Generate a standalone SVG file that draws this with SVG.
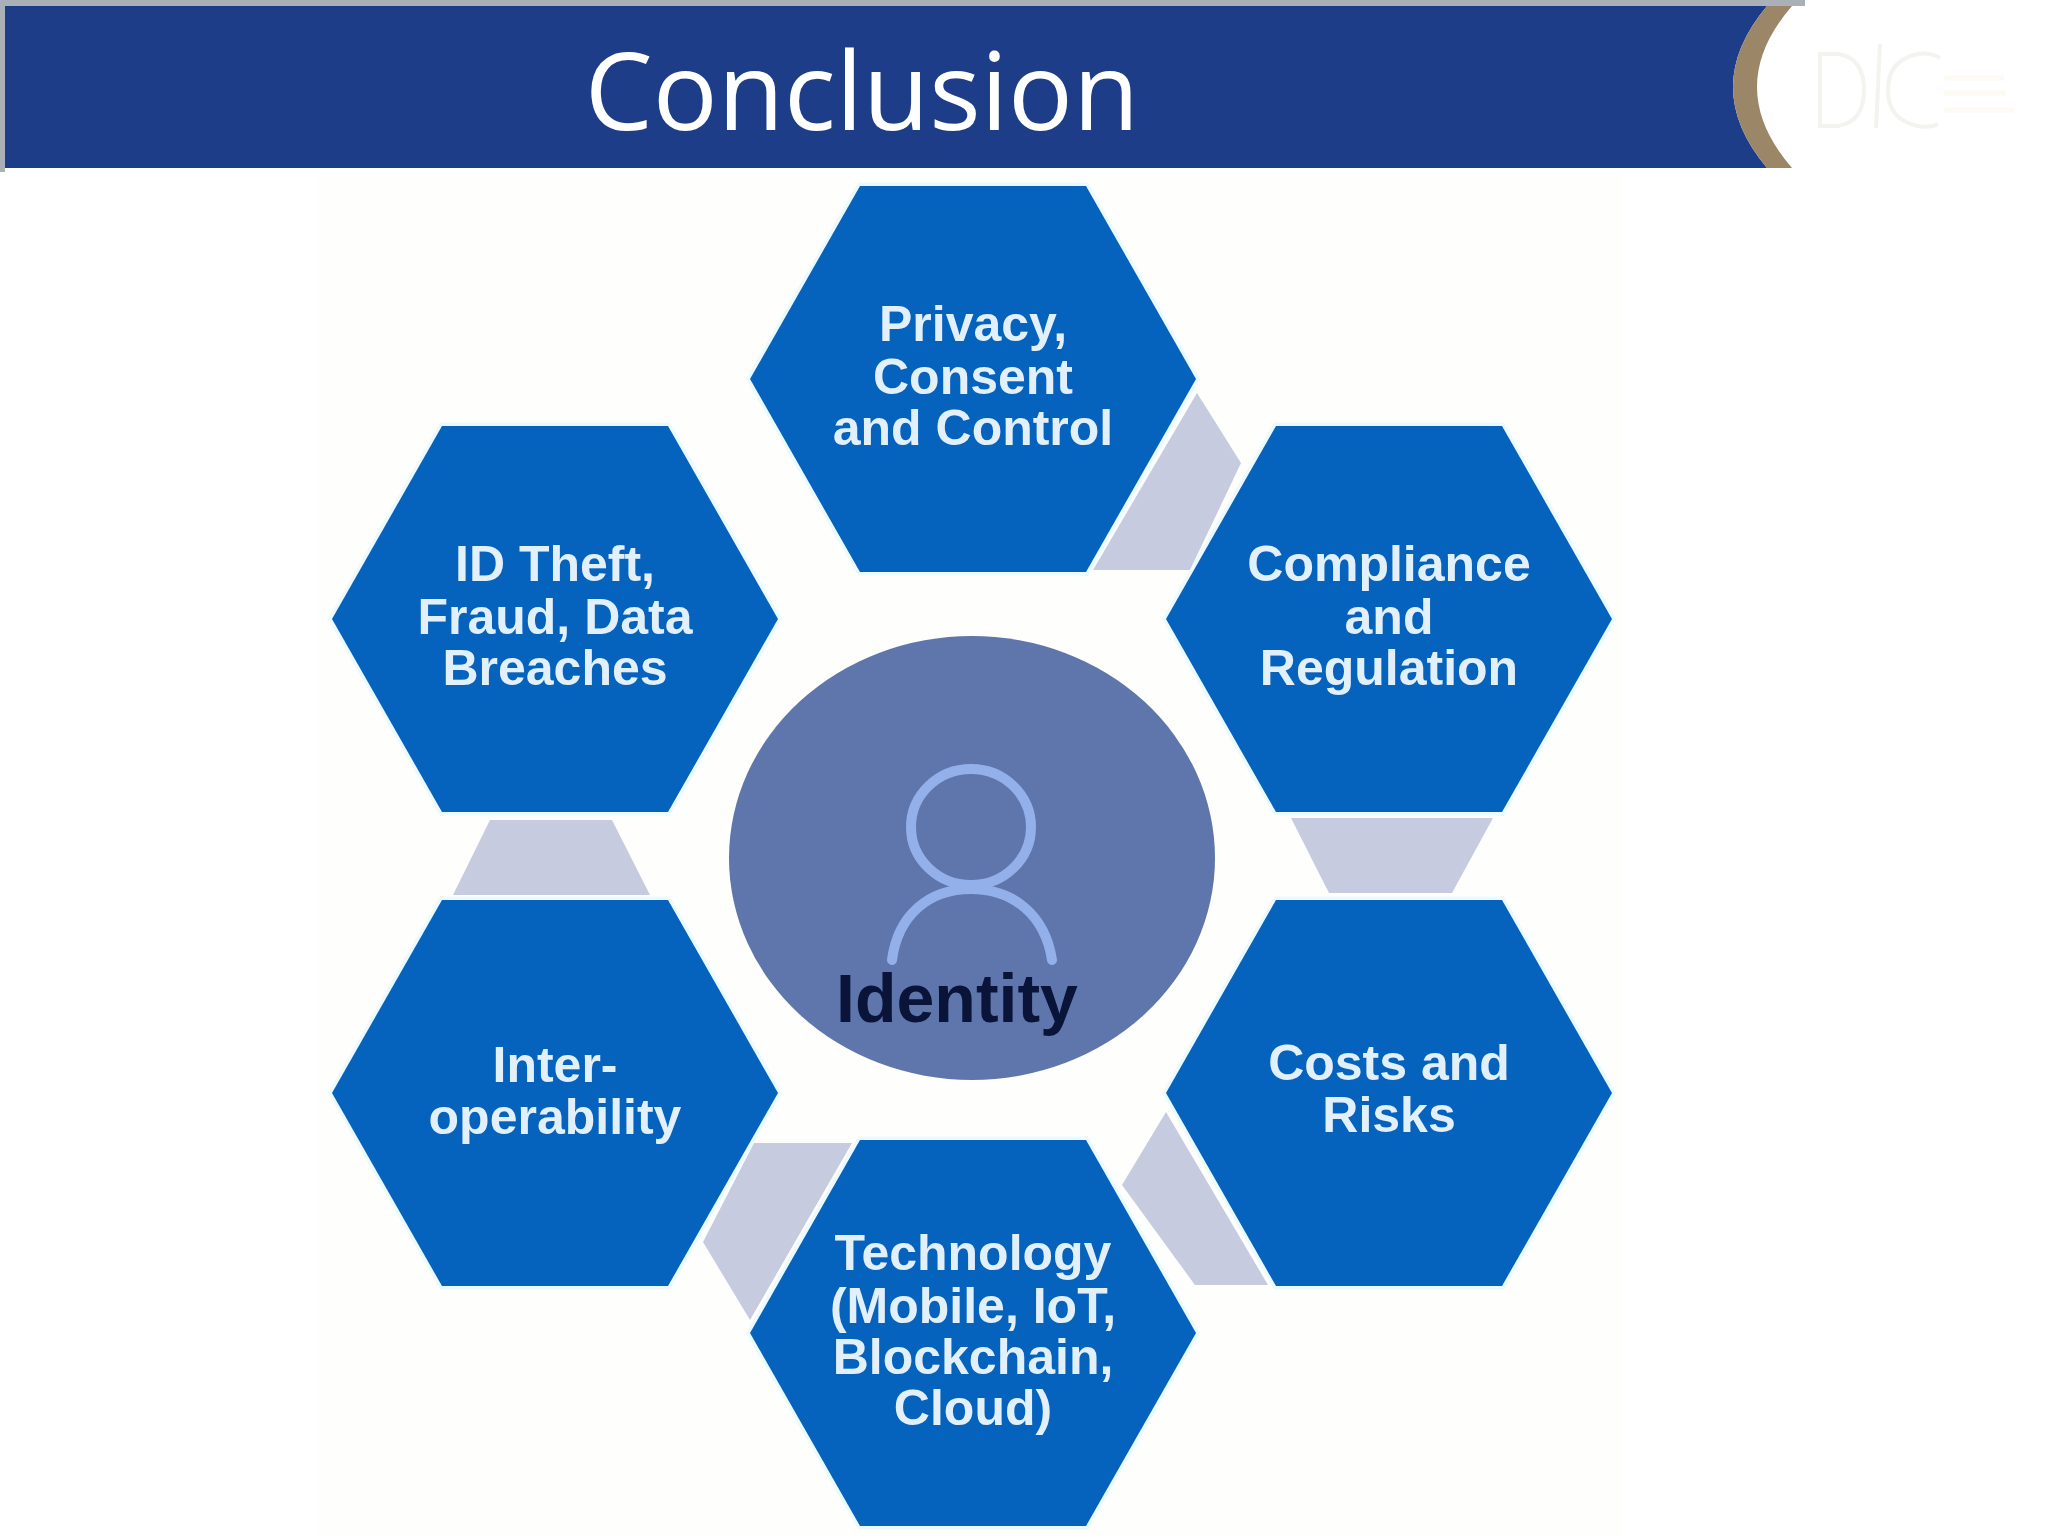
<svg xmlns="http://www.w3.org/2000/svg" width="2048" height="1536" viewBox="0 0 2048 1536">
<style>
.hex{fill:#0562bd;stroke:#eafaff;stroke-width:7;paint-order:stroke}
.lbl{font-family:"Liberation Sans",Arial,sans-serif;font-weight:700;font-size:50px;fill:#e2f0fb;text-anchor:middle}
.link{fill:#c6cbe0}
.ink{fill:none;stroke:#93b0ea;stroke-width:10}
</style>
<defs><polygon id="h" points="-223,0 -113,-193 113,-193 223,0 113,193 -113,193"/></defs>
<rect width="2048" height="1536" fill="#fff"/>
<rect x="316" y="172" width="1306" height="1364" fill="#fefefc"/>
<g id="header">
<rect width="1805" height="6" fill="#aab0b8"/>
<rect y="0" width="5" height="172" fill="#aab0b8"/>
<path d="M5 6H1767Q1699 87 1767 168H5Z" fill="#1d3d89"/>
<path d="M1767 6Q1699 87 1767 168H1792Q1722 87 1792 6Z" fill="#9b8768"/>
<text x="862" y="130" font-family="'Open Sans',sans-serif" font-size="108" fill="#fff" text-anchor="middle">Conclusion</text>
<g id="logo" fill="none" stroke="#f3f4f0" stroke-width="4">
<path d="M1820 54h18q26 4 26 36t-26 36h-18z"/><path d="M1880 44L1876 128"/><path d="M1940 58q-10-6-22-4q-30 6-30 36t30 36q12 2 20-2"/>
<path d="M1944 78h60M1944 93h62M1944 110h70" stroke="#fcfaf2" stroke-width="5"/>
</g>
</g>
<g id="connectors">
<polygon class="link" points="1197,393 1241,463 1190,570 1093,570"/>
<polygon class="link" points="1291,818 1493,818 1452,893 1329,893"/>
<polygon class="link" points="1122,1185 1166,1112 1268,1285 1195,1285"/>
<polygon class="link" points="754,1143 852,1143 750,1320 703,1242"/>
<polygon class="link" points="490,820 612,820 650,895 453,895"/>
</g>
<g id="privacy"><use href="#h" x="973" y="379" class="hex"/><text class="lbl"><tspan x="973" y="341">Privacy,</tspan><tspan x="973" y="394">Consent</tspan><tspan x="973" y="445">and Control</tspan></text></g>
<g id="compliance"><use href="#h" x="1389" y="619" class="hex"/><text class="lbl"><tspan x="1389" y="581">Compliance</tspan><tspan x="1389" y="634">and</tspan><tspan x="1389" y="685">Regulation</tspan></text></g>
<g id="costs"><use href="#h" x="1389" y="1093" class="hex"/><text class="lbl"><tspan x="1389" y="1080">Costs and</tspan><tspan x="1389" y="1132">Risks</tspan></text></g>
<g id="technology"><use href="#h" x="973" y="1333" class="hex"/><text class="lbl"><tspan x="973" y="1270">Technology</tspan><tspan x="973" y="1323">(Mobile, IoT,</tspan><tspan x="973" y="1374">Blockchain,</tspan><tspan x="973" y="1425">Cloud)</tspan></text></g>
<g id="interoperability"><use href="#h" x="555" y="1093" class="hex"/><text class="lbl"><tspan x="555" y="1082">Inter-</tspan><tspan x="555" y="1134">operability</tspan></text></g>
<g id="idtheft"><use href="#h" x="555" y="619" class="hex"/><text class="lbl"><tspan x="555" y="581">ID Theft,</tspan><tspan x="555" y="634">Fraud, Data</tspan><tspan x="555" y="685">Breaches</tspan></text></g>
<g id="identity">
<ellipse cx="972" cy="858" rx="243" ry="222" fill="#5f76ac"/>
<ellipse class="ink" cx="971" cy="827" rx="60" ry="58"/>
<path class="ink" d="M892 960C898 914 930 889 971 889S1045 914 1052 960" stroke-linecap="round"/>
<text x="957" y="1022" font-family="'Liberation Sans',Arial,sans-serif" font-weight="700" font-size="68" fill="#0a1338" text-anchor="middle">Identity</text>
</g>
</svg>
